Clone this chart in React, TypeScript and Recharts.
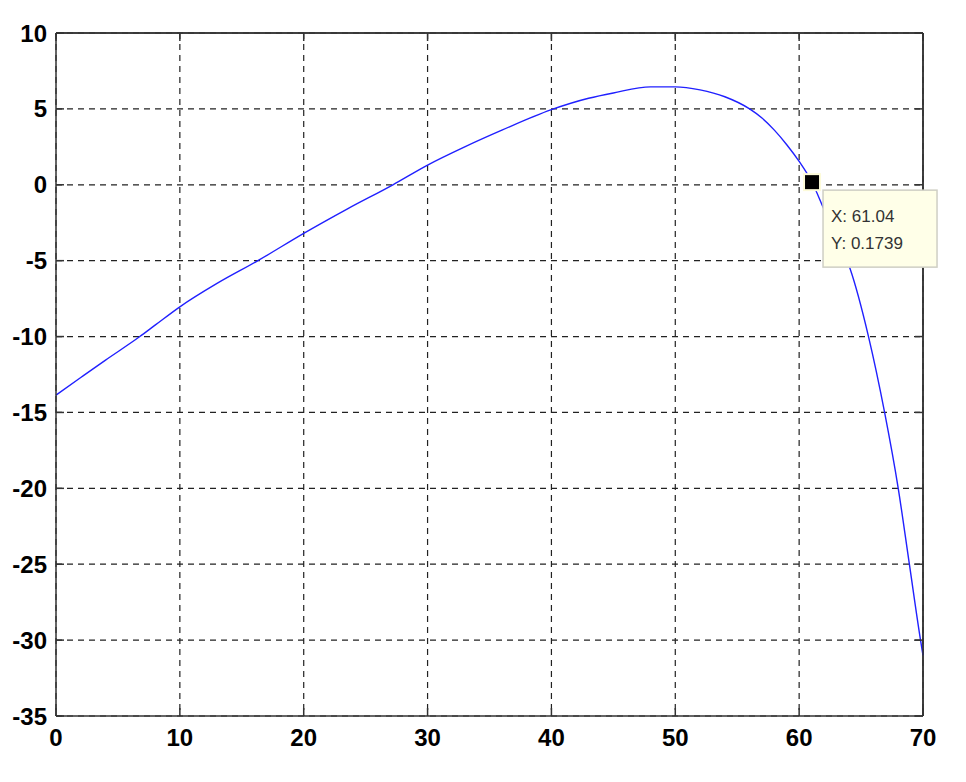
import React from 'react'
import { ComposedChart, Line, Scatter, XAxis, YAxis, CartesianGrid, ReferenceLine } from 'recharts'

// curve samples
const xs = [0, 2, 4, 6.77, 8, 10, 13, 16.3, 20, 23.5, 27.2, 30, 33, 36, 40, 43, 45, 48, 50, 52, 54, 56, 57, 58, 59, 60, 61.04, 62, 63, 64.1, 65.6, 66.9, 68, 68.9, 69.8, 70]
const ys = [-13.86, -12.7, -11.55, -10, -9.25, -8.04, -6.5, -5, -3.2, -1.6, 0, 1.3, 2.5, 3.6, 4.95, 5.7, 6.05, 6.45, 6.45, 6.25, 5.8, 5.0, 4.4, 3.6, 2.64, 1.54, 0.17, -1.6, -3.4, -5.5, -10, -15, -20, -25, -30, -31]

const xTicks = [0, 10, 20, 30, 40, 50, 60, 70]
const yTicks = [-35, -30, -25, -20, -15, -10, -5, 0, 5, 10]

const datatip = [{ x: 61.04, y: 0.1739 }]

const curve = xs.map((x, i) => ({ x, y: ys[i] }))

const axisColor = '#333'
const tickFont = { fill: '#000', fontSize: 24, fontWeight: 'bold', fontFamily: 'Liberation Sans, Arial, sans-serif' }

function DataTip(props: any) {
  const { cx, cy, payload } = props
  return (
    <g>
      <rect x={cx - 9} y={cy - 9} width={18} height={18} fill="#fdfbd9" />
      <rect x={cx - 7} y={cy - 7} width={14} height={14} fill="#000" />
      <rect x={cx + 11} y={cy + 8} width={114} height={77} fill="#ffffe8" stroke="#cfcfc4" strokeWidth={1.5} />
      <text x={cx + 19} y={cy + 40} fontSize={17} fill="#333" fontFamily="Liberation Sans, Arial, sans-serif">
        X: {payload.x}
      </text>
      <text x={cx + 19} y={cy + 67} fontSize={17} fill="#333" fontFamily="Liberation Sans, Arial, sans-serif">
        Y: {payload.y}
      </text>
    </g>
  )
}

export default function App() {
  return (
    <div style={{ position: 'absolute', left: 0, top: 0, background: '#fff' }}>
      <ComposedChart width={966} height={782} data={curve} margin={{ top: 32, right: 42, left: 0, bottom: 0 }}>
        <CartesianGrid
          stroke="#222"
          strokeDasharray="6 5"
          strokeWidth={1.2}
          horizontalValues={yTicks}
          verticalValues={xTicks}
        />
        <XAxis
          dataKey="x"
          type="number"
          domain={[0, 70]}
          ticks={xTicks}
          height={66}
          tickSize={-8}
          tickMargin={21}
          tick={tickFont}
          axisLine={{ stroke: axisColor, strokeWidth: 1.5 }}
          tickLine={{ stroke: axisColor, strokeWidth: 1.5 }}
        />
        <XAxis
          xAxisId="top"
          orientation="top"
          dataKey="x"
          type="number"
          domain={[0, 70]}
          ticks={xTicks}
          height={1}
          tickSize={-8}
          tickFormatter={() => ''}
          axisLine={{ stroke: axisColor, strokeWidth: 1.5 }}
          tickLine={{ stroke: axisColor, strokeWidth: 1.5 }}
        />
        <YAxis
          type="number"
          domain={[-35, 10]}
          ticks={yTicks}
          width={56}
          tickSize={-8}
          tickMargin={17}
          tick={tickFont}
          axisLine={{ stroke: axisColor, strokeWidth: 1.5 }}
          tickLine={{ stroke: axisColor, strokeWidth: 1.5 }}
        />
        <YAxis
          yAxisId="right"
          orientation="right"
          type="number"
          domain={[-35, 10]}
          ticks={yTicks}
          width={1}
          tickSize={-8}
          tickFormatter={() => ''}
          axisLine={{ stroke: axisColor, strokeWidth: 1.5 }}
          tickLine={{ stroke: axisColor, strokeWidth: 1.5 }}
        />
        {/* solid box edges on top and right */}
        <ReferenceLine y={10} stroke={axisColor} strokeWidth={1.5} />
        <ReferenceLine x={70} stroke={axisColor} strokeWidth={1.5} />
        {/* invisible series so the top/right box axes get drawn */}
        <Line
          xAxisId="top"
          yAxisId="right"
          dataKey="y"
          stroke="none"
          dot={false}
          activeDot={false}
          isAnimationActive={false}
        />
        <Line
          type="monotone"
          dataKey="y"
          stroke="#2020ff"
          strokeWidth={1.4}
          dot={false}
          isAnimationActive={false}
        />
        <Scatter data={datatip} dataKey="y" shape={DataTip} isAnimationActive={false} />
      </ComposedChart>
    </div>
  )
}
